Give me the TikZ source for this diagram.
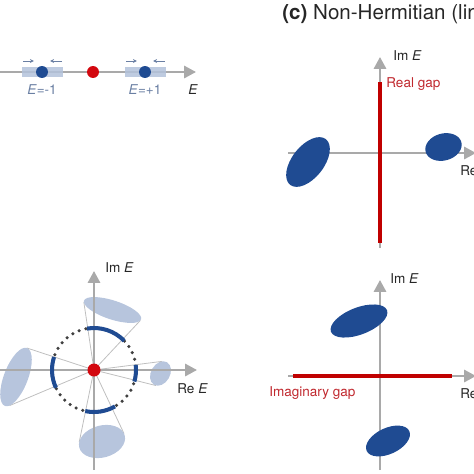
\documentclass[tikz,border=0pt]{standalone}
\usepackage{fontspec}
\setmainfont{TeX Gyre Heros}
\usepackage{tikz}
\usetikzlibrary{arrows.meta,positioning}

\definecolor{axisgray}{HTML}{A9A9A9}
\definecolor{bandblue}{HTML}{1F4B92}
\definecolor{gapred}{HTML}{C00000}
\definecolor{dotred}{HTML}{D3080F}
\definecolor{paleblue}{HTML}{B3C2DB}
\definecolor{slateblue}{HTML}{6A7FA3}
\definecolor{labelred}{HTML}{C0282E}

\begin{document}
\begin{tikzpicture}[x=0.02cm, y=-0.02cm,
    axis/.style={draw=axisgray, line width=1.3pt, -{Triangle[length=6.8pt,width=7pt]}},
    lbl/.style={inner sep=0pt, anchor=base west, text=black!85,
       font=\fontsize{7.7}{9}\selectfont},
    gaplbl/.style={lbl, text=labelred},
    reddot/.style={circle, fill=dotred, inner sep=0pt, minimum size=6.8pt},
    bluedot/.style={circle, fill=bandblue, inner sep=0pt, minimum size=6.8pt},
    band/.style={fill=paleblue, opacity=.85},
    nudge/.style={draw=slateblue, line width=0.5pt, -{Stealth[length=2.3pt,width=2.2pt]}},
    blob/.style={fill=bandblue},
    gap/.style={draw=gapred, line width=2pt},
    coneedge/.style={draw=gray!50, line width=0.45pt},
    conecap/.style={fill=paleblue!95},
    ring/.style={draw=black!75, line width=2pt, line cap=round, dash pattern=on 0pt off 4pt},
    arcpiece/.style={draw=bandblue, line width=2.3pt}
    ]
    \useasboundingbox (0,0) rectangle (474,474);
    \clip (0,0) rectangle (474,474);

    % Hermitian: real line
    \draw[axis] (0,72) -- (196,72);
    \foreach \cx/\name/\val in {42/minus/-1, 145/plus/+1}{
      \fill[band] (\cx-20.5,67.3) rectangle (\cx+20.5,76.7);
      \draw[nudge] (\cx-19,61) -- (\cx-8,61);
      \draw[nudge] (\cx+20,61) -- (\cx+8,61);
      \node[bluedot] (dot\name) at (\cx,72) {};
      \node[lbl, text=slateblue, anchor=base] (lab\name) at (\cx,94) {\textit{E}=\val};
    }
    \node[reddot] (zero) at (93,72) {};
    \node[lbl] (eaxis) at (188,94) {\textit{E}};

    \node[lbl, font=\fontsize{11.7}{13}\selectfont] (title) at (282,19.3)
       {\textbf{(c)} Non-Hermitian (line gap)};

    % real gap
    \draw[axis] (380,248) -- (380,57);
    \draw[axis] (288,153) -- (476,153);
    \draw[gap] (380,82) -- (380,243);
    \fill[blob, rotate around={52:(308,162)}] (308,162) ellipse[x radius=29, y radius=16];
    \fill[blob, rotate around={15:(443.5,147)}] (443.5,147) ellipse[x radius=18.5, y radius=13.5];
    \node[lbl] (imtr) at (393,60.5) {Im \textit{E}};
    \node[gaplbl] (realgap) at (386,87.3) {Real gap};
    \node[lbl] (retr) at (460,175.5) {Re \textit{E}};

    % imaginary gap
    \draw[axis] (380,470) -- (380,280);
    \draw[axis] (288,376) -- (476,376);
    \draw[gap] (293,376) -- (452,376);
    \fill[blob, rotate around={21:(359,321)}] (359,321) ellipse[x radius=30, y radius=13.5];
    \fill[blob, rotate around={25:(388,441)}] (388,441) ellipse[x radius=23.5, y radius=13];
    \node[lbl] (imbr) at (390,283) {Im \textit{E}};
    \node[gaplbl] (imaggap) at (269,396) {Imaginary gap};
    \node[lbl] (rebr) at (460,398) {Re \textit{E}};

    % point gap
    \coordinate (o) at (94,370);
    \foreach \cx/\cy/\rot/\ra/\rb/\ta/\tb in {% centre/rotation/radii/tangent angles
      16/377/69/31/12/159.6/359,
      112.5/310/-18/30/9.5/171/368.4,
      160.5/373.5/60/13/9.5/-29/168.2,
      102/441.5/15/23.5/16/-7/198.8}{
      \begin{scope}[shift={(\cx,\cy)}, rotate=\rot]
        \draw[coneedge] (\ta:{\ra} and {\rb}) -- (o) -- (\tb:{\ra} and {\rb});
        \fill[conecap] (0,0) ellipse[x radius=\ra, y radius=\rb];
      \end{scope}
    }
    \draw[axis] (94,470) -- (94,271);
    \draw[axis] (0,370) -- (197,370);
    \draw[ring] (o) circle[radius=42];
    \foreach \s/\e in {-99.5/-44, 155/198, -7/16, 60/102}
      \draw[arcpiece] ([shift={(\s:42)}]o) arc[start angle=\s, end angle=\e, radius=42];
    \node[reddot, minimum size=7.4pt] (origin) at (o) {};
    \node[lbl] (imbl) at (105,272) {Im \textit{E}};
    \node[lbl] (rebl) at (177,393.5) {Re \textit{E}};
\end{tikzpicture}
\end{document}
